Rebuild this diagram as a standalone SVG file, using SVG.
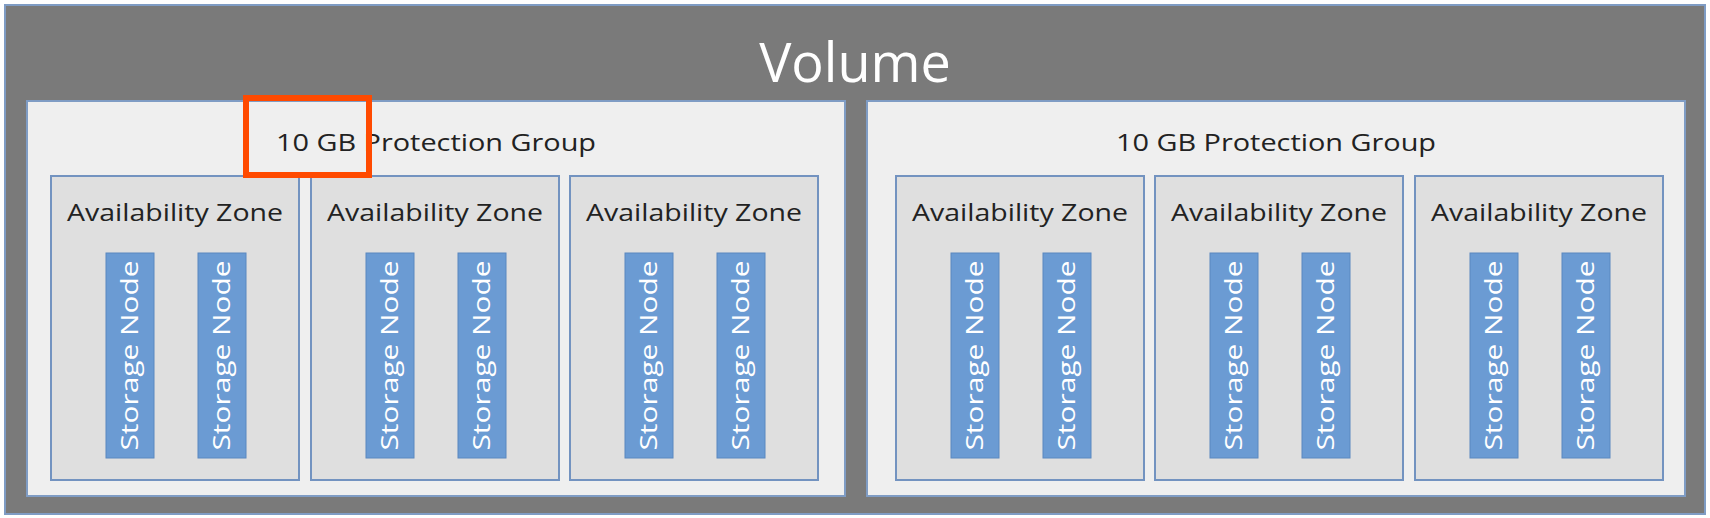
<svg xmlns="http://www.w3.org/2000/svg" width="1710" height="518" viewBox="0 0 1710 518">
<style>
.pg{fill:#efefef;stroke:#7f9cc4;stroke-width:2}
.az{fill:#dfdfdf;stroke:#7393c0;stroke-width:2}
.sn{fill:#6b9bd3;stroke:#5b88c0;stroke-width:1}
.t{font-family:"Open Sans","Liberation Sans",sans-serif;fill:#222;text-anchor:middle}
.pgt{font-size:24px}
.azt{font-size:24px}
.snt{font-family:"Open Sans","Liberation Sans",sans-serif;font-size:23px;fill:#fff;text-anchor:middle}
</style>
<defs>
<g id="zone">
<rect class="az" x="-124" y="0" width="248" height="304"/>
<text class="t azt" x="0" y="45" textLength="216" lengthAdjust="spacingAndGlyphs">Availability Zone</text>
<rect class="sn" x="-69" y="77" width="48" height="205"/>
<rect class="sn" x="23" y="77" width="48" height="205"/>
<text class="snt" transform="translate(-45,179.5) rotate(-90)" y="8" textLength="190" lengthAdjust="spacingAndGlyphs">Storage Node</text>
<text class="snt" transform="translate(47,179.5) rotate(-90)" y="8" textLength="190" lengthAdjust="spacingAndGlyphs">Storage Node</text>
</g>
</defs>
<g id="volume">
<rect x="5" y="5" width="1700" height="509" fill="#7a7a7a" stroke="#7f9cc4" stroke-width="2"/>
<text x="855" y="82" font-family="'Open Sans','Liberation Sans',sans-serif" font-size="54" fill="#fff" text-anchor="middle">Volume</text>
</g>
<g id="pg-left">
<rect class="pg" x="27" y="101" width="818" height="395"/>
<text class="t pgt" x="436" y="151" textLength="320" lengthAdjust="spacingAndGlyphs">10 GB Protection Group</text>
<g id="az-l1"><use href="#zone" transform="translate(175,176)"/></g>
<g id="az-l2"><use href="#zone" transform="translate(435,176)"/></g>
<g id="az-l3"><use href="#zone" transform="translate(694,176)"/></g>
</g>
<g id="pg-right">
<rect class="pg" x="867" y="101" width="818" height="395"/>
<text class="t pgt" x="1276" y="151" textLength="320" lengthAdjust="spacingAndGlyphs">10 GB Protection Group</text>
<g id="az-r1"><use href="#zone" transform="translate(1020,176)"/></g>
<g id="az-r2"><use href="#zone" transform="translate(1279,176)"/></g>
<g id="az-r3"><use href="#zone" transform="translate(1539,176)"/></g>
</g>
<g id="highlight">
<rect x="246" y="98" width="123" height="77" fill="none" stroke="#ff4a00" stroke-width="6"/>
</g>
<g id="connectors"/>
</svg>
